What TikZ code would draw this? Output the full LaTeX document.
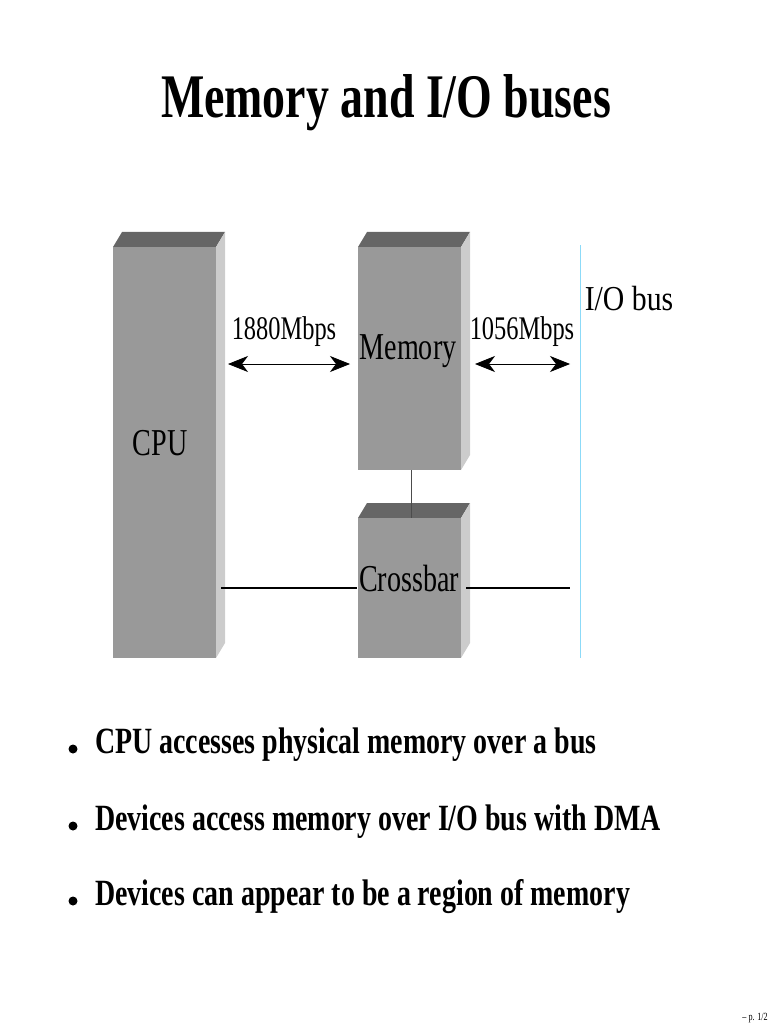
\documentclass[tikz,border=0pt]{standalone}
\usepackage{fontspec}
\usetikzlibrary{arrows.meta}
\setmainfont{Liberation Serif}
\newcommand{\cz}[1]{\scalebox{0.74}[1]{#1}}
\begin{document}
\begin{tikzpicture}[x=1pt,y=-1pt,
  front/.style={fill=black!40},
  topf/.style={fill=black!60},
  sidef/.style={fill=black!20},
  lbl/.style={inner sep=0pt,font=\fontsize{38}{38}\selectfont},
  sml/.style={inner sep=0pt,font=\fontsize{33}{33}\selectfont},
  bul/.style={inner sep=0pt,anchor=west,font=\fontsize{37}{37}\selectfont\bfseries},
  dbl/.style={line width=0.8pt,{Stealth[length=20pt,width=16pt,inset=6pt]}-{Stealth[length=20pt,width=16pt,inset=6pt]}}]
\useasboundingbox (0,0) rectangle (768,1024);
\newcommand{\blockbox}[5]{% name x1 y1 x2 y2
  \fill[topf] (#2,#3) -- (#4,#3) -- ++(9,-15) -- (#2+9,#3-15) -- cycle;
  \fill[sidef] (#4,#3) -- ++(9,-15) -- (#4+9,#5-15) -- (#4,#5) -- cycle;
  \fill[front] (#2,#3) rectangle (#4,#5);
  \coordinate (#1) at ({(#2+#4)/2},{(#3+#5)/2});}
\blockbox{cpu}{113}{247}{216}{658}
\blockbox{mem}{358}{247}{461}{470}
\blockbox{xb}{358}{518}{461}{658}
\node[inner sep=0pt,font=\fontsize{62}{62}\selectfont\bfseries] (title) at (386,103) {\cz{Memory and I/O buses}};
\node[lbl] (tcpu) at (160,443) {\cz{CPU}};
\node[lbl] (tmem) at (408,351) {\cz{Memory}};
\node[lbl] (txb) at (409,578) {\cz{Crossbar}};
\node[sml] (a1) at (284,332) {\cz{1880Mbps}};
\node[sml] (a2) at (522,332) {\cz{1056Mbps}};
\node[inner sep=0pt,font=\fontsize{35}{35}\selectfont] (iob) at (629,299) {\scalebox{0.85}[1]{I/O bus}};
\coordinate (c1) at (228,364); \coordinate (c2) at (350,364);
\coordinate (c3) at (475,364); \coordinate (c4) at (570,364);
\draw[dbl] (c1) -- (c2);
\draw[dbl] (c3) -- (c4);
\draw[line width=0.7pt,black!70] (411,470) -- (411,518);
\coordinate (b1) at (221,588); \coordinate (b2) at (357,588);
\coordinate (b3) at (466,588); \coordinate (b4) at (570,588);
\draw[line width=1.5pt] (b1) -- (b2);
\draw[line width=1.5pt] (b3) -- (b4);
\coordinate (io1) at (580,245); \coordinate (io2) at (580,658);
\draw[cyan!45,line width=1pt] (io1) -- (io2);
\foreach \y/\t in {745/{CPU accesses physical memory over a bus},822/{Devices access memory over I/O bus with DMA},897/{Devices can appear to be a region of memory}}{
  \fill (73,\y+4) circle (4.5);
  \node[bul] at (95,\y) {\scalebox{0.755}[1]{\t}};}
\node[inner sep=0pt,anchor=east,font=\fontsize{11}{11}\selectfont] (pg) at (768,1018) {\cz{– p. 1/2}};
\end{tikzpicture}
\end{document}
